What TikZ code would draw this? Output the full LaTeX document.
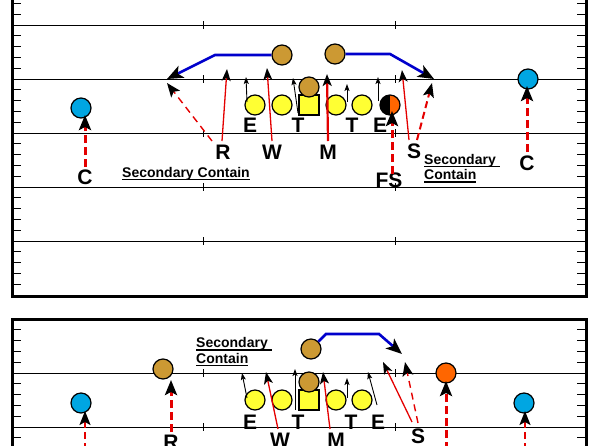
\documentclass[tikz,border=0pt]{standalone}
\usepackage{fontspec}
\setmainfont{Liberation Sans}
\usetikzlibrary{arrows.meta}
\definecolor{cblue}{RGB}{0,166,226}
\definecolor{lbbrown}{RGB}{204,153,51}
\definecolor{olyel}{RGB}{255,255,51}
\definecolor{fsorange}{RGB}{255,102,0}
\definecolor{rred}{RGB}{228,0,0}
\definecolor{pathblue}{RGB}{0,0,204}
\newcommand{\ulx}[1]{\leavevmode\setbox0=\hbox{#1}\rlap{\vrule width \wd0 height -1.6pt depth 3.3pt}\box0}
\begin{document}
\begin{tikzpicture}[x=1pt,y=-1pt,
  player/.style={circle, draw=black, line width=1.2pt, minimum size=20pt, inner sep=0pt},
  olsq/.style={rectangle, draw=black, line width=1.2pt, minimum size=20pt, inner sep=0pt, fill=olyel},
  lbl/.style={font=\fontsize{21}{21}\selectfont\bfseries, inner sep=0pt},
  note/.style={font=\fontsize{14}{15.5}\selectfont\bfseries, align=left, inner sep=0pt, anchor=base west},
  yard/.style={line width=1pt, black},
  frame/.style={line width=3pt, black},
  bluepath/.style={line width=2.6pt, pathblue, -{Stealth[length=16pt,width=13pt,inset=4pt,color=black]}},
  thickdash/.style={line width=3pt, rred, dash pattern=on 8pt off 4pt, -{Stealth[length=15pt,width=12pt,inset=3pt,color=black]}},
  middash/.style={line width=2pt, rred, dash pattern=on 7pt off 4pt, -{Stealth[length=14pt,width=11pt,inset=3pt,color=black]}},
  thindash/.style={line width=1.4pt, rred, dash pattern=on 7pt off 5pt, -{Stealth[length=14pt,width=11pt,inset=3pt,color=black]}},
  redline/.style={line width=1.3pt, rred, -{Stealth[length=12pt,width=9pt,inset=3pt,color=black]}},
  redthick/.style={line width=2.2pt, rred, -{Stealth[length=12pt,width=9pt,inset=3pt,color=black]}},
  blkline/.style={line width=0.9pt, black, -{Stealth[length=7pt,width=5pt,inset=1.5pt]}}
]
\useasboundingbox (0,0) rectangle (594,445);
\begin{scope}
\clip (0,0) rectangle (594,445);
% ---------- top field ----------
\draw[frame] (12,-20) rectangle (586,296);
\foreach \y in {25,79,133,187,241} {
  \draw[yard] (12,\y) -- (586,\y);
  \draw[yard] (203,\y-4) -- (203,\y+4);
  \draw[yard] (395,\y-4) -- (395,\y+4);
}
\foreach \b in {-29,25,79,133,187,241} {
  \foreach \j in {1,2,3,4} {
    \draw[yard] (12,\b+10.8*\j) -- (21,\b+10.8*\j);
    \draw[yard] (586,\b+10.8*\j) -- (577,\b+10.8*\j);
  }
}
% ---------- bottom field ----------
\draw[frame] (12,319) rectangle (586,480);
\foreach \y in {373,427} {
  \draw[yard] (12,\y) -- (586,\y);
  \draw[yard] (203,\y-4) -- (203,\y+4);
  \draw[yard] (395,\y-4) -- (395,\y+4);
}
\foreach \b in {319,373,427} {
  \foreach \j in {1,2,3,4} {
    \draw[yard] (12,\b+10.8*\j) -- (21,\b+10.8*\j);
    \draw[yard] (586,\b+10.8*\j) -- (577,\b+10.8*\j);
  }
}

% ================= TOP DIAGRAM =================
\node[player, fill=cblue] (tCL) at (81,108) {};
\node[player, fill=cblue] (tCR) at (528,79) {};
\node[player, fill=lbbrown] (tW) at (282,55) {};
\node[player, fill=lbbrown] (tS) at (335,54) {};
\node[player, fill=olyel] (tO1) at (255,105) {};
\node[player, fill=olyel] (tO2) at (282,105) {};
\node[olsq] (tO3) at (309,105) {};
\node[player, fill=lbbrown] (tM) at (309,87) {};
\node[player, fill=olyel] (tO4) at (336,105) {};
\node[player, fill=olyel] (tO5) at (362,105) {};
\node[player, fill=fsorange, path picture={\fill[black] (path picture bounding box.south west) rectangle (path picture bounding box.north);}] (tO6) at (390,105) {};

% labels
\node[lbl] (tlE1) at (250,125) {E};
\node[lbl] (tlT1) at (298,125) {T};
\node[lbl] (tlT2) at (352,125) {T};
\node[lbl] (tlE2) at (380,125) {E};
\node[lbl] (tlR) at (223,152) {R};
\node[lbl] (tlW) at (272,152) {W};
\node[lbl] (tlM) at (328,152) {M};
\node[lbl] (tlS) at (414,151) {S};
\node[lbl] (tlFS) at (389,180) {FS};
\node[lbl] (tlCL) at (85,177) {C};
\node[lbl] (tlCR) at (527,163) {C};
\node[note] (tn1) at (122,177) {\ulx{Secondary Contain}};
\node[note] (tn2) at (424,179.5) {\ulx{Secondary\ }\\\ulx{Contain}};

% coordinates
\coordinate (tb1) at (215,55);
\coordinate (tb1e) at (167,79);
\coordinate (tb2) at (390,54);
\coordinate (tb2e) at (434,79);
\coordinate (tRd0) at (212,141);
\coordinate (tRd1) at (167,83);
\coordinate (tRs0) at (222,141);
\coordinate (tRs1) at (227,69);
\coordinate (tW0) at (272,141);
\coordinate (tW1) at (267,68);
\coordinate (tM0) at (328,141);
\coordinate (tM1) at (327,74);
\coordinate (tSs0) at (409,140);
\coordinate (tSs1) at (402,70);
\coordinate (tSd0) at (417,140);
\coordinate (tSd1) at (432,83);
\coordinate (tFS0) at (392,174);
\coordinate (tFS1) at (392,111);
\coordinate (tCL0) at (85,167);
\coordinate (tCL1) at (85,115);
\coordinate (tCR0) at (527,152);
\coordinate (tCR1) at (527,86);
\coordinate (tk1a) at (247,102); \coordinate (tk1b) at (246,77);
\coordinate (tk2a) at (298,113); \coordinate (tk2b) at (293,78);
\coordinate (tk3a) at (347,102); \coordinate (tk3b) at (347,84);
\coordinate (tk4a) at (378,101); \coordinate (tk4b) at (378,77);

\draw[bluepath] (tW.west) -- (tb1) -- (tb1e);
\draw[bluepath] (tS.east) -- (tb2) -- (tb2e);
\draw[blkline] (tk1a) -- (tk1b);
\draw[blkline] (tk2a) -- (tk2b);
\draw[blkline] (tk3a) -- (tk3b);
\draw[blkline] (tk4a) -- (tk4b);
\draw[thindash] (tRd0) -- (tRd1);
\draw[redline] (tRs0) -- (tRs1);
\draw[redline] (tW0) -- (tW1);
\draw[redthick] (tM0) -- (tM1);
\draw[redline] (tSs0) -- (tSs1);
\draw[middash] (tSd0) -- (tSd1);
\draw[thickdash] (tFS0) -- (tFS1);
\draw[thickdash] (tCL0) -- (tCL1);
\draw[thickdash] (tCR0) -- (tCR1);

% ================= BOTTOM DIAGRAM =================
\node[player, fill=cblue] (bCL) at (81,403) {};
\node[player, fill=cblue] (bCR) at (524,403) {};
\node[player, fill=lbbrown] (bR) at (163,369) {};
\node[player, fill=fsorange] (bFS) at (446,373) {};
\node[player, fill=lbbrown] (bLB) at (311,349) {};
\node[player, fill=olyel] (bO1) at (255,400) {};
\node[player, fill=olyel] (bO2) at (282,400) {};
\node[olsq] (bO3) at (309,400) {};
\node[player, fill=lbbrown] (bM) at (309,382) {};
\node[player, fill=olyel] (bO4) at (336,400) {};
\node[player, fill=olyel] (bO5) at (362,400) {};

\node[lbl] (blE1) at (250,422) {E};
\node[lbl] (blT1) at (298,422) {T};
\node[lbl] (blT2) at (351,422) {T};
\node[lbl] (blE2) at (378,422) {E};
\node[lbl] (blW) at (280,440) {W};
\node[lbl] (blM) at (336,440) {M};
\node[lbl] (blS) at (418,436) {S};
\node[lbl] (blR) at (171,442) {R};
\node[note] (bn1) at (196,363) {\ulx{Secondary\ }\\\ulx{Contain}};

\coordinate (bb1) at (326,334);
\coordinate (bb2) at (379,334);
\coordinate (bb3) at (402,354);
\coordinate (bCL0) at (85,450); \coordinate (bCL1) at (85,411);
\coordinate (bCR0) at (525,450); \coordinate (bCR1) at (525,411);
\coordinate (bR0) at (171,432); \coordinate (bR1) at (171,380);
\coordinate (bFS0) at (446,450); \coordinate (bFS1) at (446,381);
\coordinate (bk1a) at (247,398); \coordinate (bk1b) at (242,373);
\coordinate (bk2a) at (295,410); \coordinate (bk2b) at (295,369);
\coordinate (bk3a) at (347,398); \coordinate (bk3b) at (347,378);
\coordinate (bk4a) at (377,405); \coordinate (bk4b) at (368,372);
\coordinate (bW0) at (278,429); \coordinate (bW1) at (266,372);
\coordinate (bM0) at (330,429); \coordinate (bM1) at (323,372);
\coordinate (bSs0) at (412,422); \coordinate (bSs1) at (383,362);
\coordinate (bSd0) at (418,423); \coordinate (bSd1) at (405,362);

\draw[bluepath] (bLB.45) -- (bb1) -- (bb2) -- (bb3);
\draw[blkline] (bk1a) -- (bk1b);
\draw[blkline] (bk2a) -- (bk2b);
\draw[blkline] (bk3a) -- (bk3b);
\draw[blkline] (bk4a) -- (bk4b);
\draw[redline] (bW0) -- (bW1);
\draw[redline] (bM0) -- (bM1);
\draw[redline] (bSs0) -- (bSs1);
\draw[thindash] (bSd0) -- (bSd1);
\draw[middash] (bCL0) -- (bCL1);
\draw[middash] (bCR0) -- (bCR1);
\draw[thickdash] (bR0) -- (bR1);
\draw[thickdash] (bFS0) -- (bFS1);
\end{scope}
\end{tikzpicture}
\end{document}
